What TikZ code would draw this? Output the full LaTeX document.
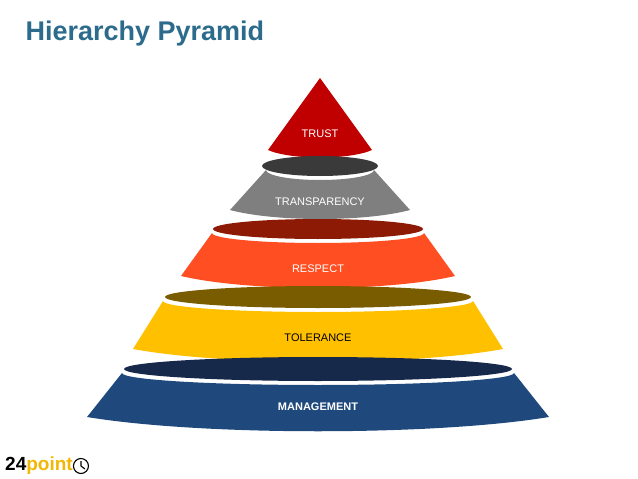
\documentclass[tikz,border=0pt]{standalone}
\usepackage{fontspec}
\setmainfont{Liberation Sans}
\begin{document}
\begin{tikzpicture}[x=1pt,y=-1pt,
  lbl/.style={font=\fontsize{11}{12}\selectfont}]
\useasboundingbox (0,0) rectangle (638,479);
\definecolor{ttl}{HTML}{2C6B8C}
\definecolor{c1}{HTML}{C00000}\definecolor{e1}{HTML}{3A3A3A}
\definecolor{c2}{HTML}{7F7F7F}\definecolor{e2}{HTML}{8C1A04}
\definecolor{c3}{HTML}{FF4E22}\definecolor{e3}{HTML}{7A5C00}
\definecolor{c4}{HTML}{FFC000}\definecolor{e4}{HTML}{16294A}
\definecolor{c5}{HTML}{1F497D}\definecolor{gold}{HTML}{F2B705}
\newcommand{\band}[8]{%
 \fill[#8] (#1-#3,#2+4) arc[start angle=180,end angle=0,x radius=#3,y radius=#4]
   -- (#1+#5,#6) .. controls (#1+#5*0.5,#6+#7) and (#1-#5*0.5,#6+#7) .. (#1-#5,#6) -- cycle;}
\fill[c1] (320,78) -- (372,150) .. controls (350,160) and (290,160) .. (268,150) -- cycle;
\fill[e1] (320,166) ellipse[x radius=58,y radius=10];
\band{320}{166}{54}{10}{90}{210}{12}{c2}
\fill[e2] (318,229) ellipse[x radius=105,y radius=10];
\band{318}{229}{106}{10}{137}{276}{16}{c3}
\fill[e3] (318,297) ellipse[x radius=153,y radius=11];
\band{318}{297}{155}{11}{185}{349}{17}{c4}
\fill[e4] (318,369) ellipse[x radius=194,y radius=12];
\band{318}{369}{196}{12}{231}{417}{19}{c5}
\node[lbl,text=white] (t1) at (320,134) {TRUST};
\node[lbl,text=white] (t2) at (320,202) {TRANSPARENCY};
\node[lbl,text=white] (t3) at (318,269) {RESPECT};
\node[lbl,text=black] (t4) at (318,338) {TOLERANCE};
\node[lbl,text=white,font=\fontsize{11}{12}\selectfont\bfseries] (t5) at (318,407) {MANAGEMENT};
\node[anchor=west,text=ttl,font=\fontsize{27}{30}\selectfont\bfseries] (title) at (22,34) {Hierarchy Pyramid};
\node[anchor=west,inner sep=0,font=\fontsize{19}{20}\selectfont\bfseries] (logo) at (5,466) {24\textcolor{gold}{point}};
\draw[line width=1.1pt] ([xshift=8pt]logo.east) circle[radius=7.5];
\draw[line width=1.1pt] ([xshift=8pt]logo.east) -- ++(0,-5) ([xshift=8pt]logo.east) -- ++(4,3);
\end{tikzpicture}
\end{document}
